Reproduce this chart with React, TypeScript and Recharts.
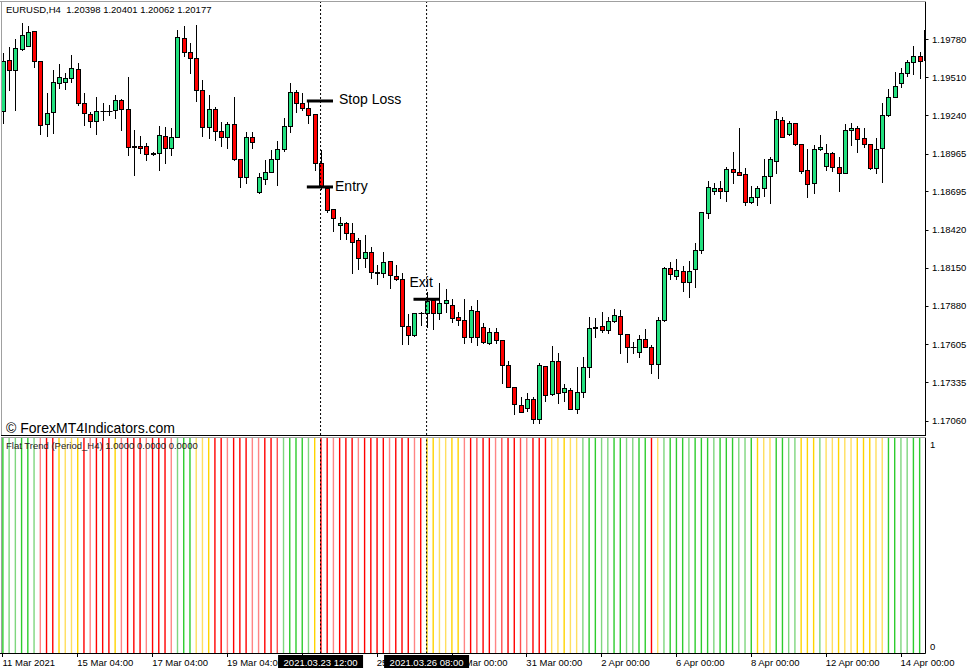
import { ComposedChart, Bar, XAxis, YAxis, ReferenceLine } from 'recharts'

// EURUSD H4, 149 bars
const open = [
  1.19269, 1.19632, 1.19561, 1.19711, 1.19732, 1.19839, 1.19625, 1.19176, 1.19261, 1.19468,
  1.19475, 1.19504, 1.19568, 1.19326, 1.19247, 1.19197, 1.19269, 1.19269, 1.19276, 1.19347,
  1.19283, 1.19019, 1.19019, 1.19019, 1.18962, 1.18969, 1.19090, 1.19005, 1.19083, 1.19789,
  1.19689, 1.19646, 1.19418, 1.19154, 1.19283, 1.19126, 1.19083, 1.19176, 1.18926, 1.18798,
  1.19083, 1.18691, 1.18784, 1.18834, 1.18926, 1.18998, 1.19162, 1.19404, 1.19326, 1.19290,
  1.19247, 1.18898, 1.18720, 1.18570, 1.18456, 1.18470, 1.18399, 1.18349, 1.18220, 1.18263,
  1.18121, 1.18114, 1.18199, 1.18092, 1.18071, 1.17736, 1.17671, 1.17828, 1.17828, 1.17921,
  1.17828, 1.17900, 1.17885, 1.17800, 1.17778, 1.17657, 1.17843, 1.17729, 1.17614, 1.17693,
  1.17636, 1.17458, 1.17301, 1.17172, 1.17151, 1.17215, 1.17073, 1.17450, 1.17251, 1.17486,
  1.17265, 1.17279, 1.17144, 1.17265, 1.17443, 1.17729, 1.17736, 1.17707, 1.17771, 1.17807,
  1.17679, 1.17586, 1.17550, 1.17643, 1.17586, 1.17465, 1.17778, 1.18149, 1.18092, 1.18128,
  1.18049, 1.18142, 1.18278, 1.18541, 1.18698, 1.18720, 1.18698, 1.18855, 1.18834, 1.18819,
  1.18620, 1.18655, 1.18720, 1.18805, 1.18912, 1.19204, 1.19105, 1.19183, 1.19033, 1.18848,
  1.18755, 1.18998, 1.18876, 1.18969, 1.18869, 1.18827, 1.19133, 1.19147, 1.19076, 1.19033,
  1.18862, 1.19005, 1.19240, 1.19368, 1.19468, 1.19540, 1.19618, 1.19661, 1.19632,
]
const high = [
  1.19682, 1.19725, 1.19782, 1.19896, 1.19875, 1.19839, 1.19625, 1.19397, 1.19561, 1.19604,
  1.19540, 1.19668, 1.19611, 1.19397, 1.19261, 1.19368, 1.19326, 1.19311, 1.19383, 1.19354,
  1.19511, 1.19133, 1.19090, 1.19040, 1.18976, 1.19162, 1.19154, 1.19147, 1.19846, 1.19875,
  1.19753, 1.19882, 1.19490, 1.19383, 1.19297, 1.19190, 1.19190, 1.19368, 1.18926, 1.19119,
  1.19119, 1.18827, 1.18919, 1.18991, 1.19055, 1.19219, 1.19468, 1.19418, 1.19397, 1.19333,
  1.19247, 1.18991, 1.18727, 1.18570, 1.18513, 1.18477, 1.18470, 1.18363, 1.18384, 1.18299,
  1.18171, 1.18263, 1.18199, 1.18171, 1.18114, 1.17821, 1.17828, 1.17836, 1.17978, 1.17921,
  1.18042, 1.17999, 1.17928, 1.17836, 1.17928, 1.17878, 1.17921, 1.17757, 1.17721, 1.17721,
  1.17636, 1.17486, 1.17301, 1.17229, 1.17258, 1.17229, 1.17472, 1.17450, 1.17593, 1.17543,
  1.17322, 1.17294, 1.17443, 1.17515, 1.17800, 1.17793, 1.17836, 1.17800, 1.17857, 1.17850,
  1.17679, 1.17622, 1.17671, 1.17714, 1.17600, 1.17800, 1.18156, 1.18192, 1.18213, 1.18163,
  1.18199, 1.18327, 1.18548, 1.18770, 1.18755, 1.18770, 1.18869, 1.18976, 1.19147, 1.18862,
  1.18734, 1.18734, 1.18926, 1.18941, 1.19269, 1.19226, 1.19197, 1.19183, 1.19033, 1.18998,
  1.19026, 1.19097, 1.19033, 1.18976, 1.18941, 1.19176, 1.19183, 1.19162, 1.19147, 1.19033,
  1.19076, 1.19326, 1.19425, 1.19547, 1.19575, 1.19632, 1.19732, 1.19689, 1.19867,
]
const low = [
  1.19183, 1.19418, 1.19276, 1.19704, 1.19732, 1.19582, 1.19105, 1.19090, 1.19112, 1.19433,
  1.19425, 1.19475, 1.19311, 1.19169, 1.19154, 1.19105, 1.19204, 1.19240, 1.19219, 1.19133,
  1.18955, 1.18812, 1.18969, 1.18919, 1.18955, 1.18848, 1.18898, 1.18955, 1.19083, 1.19661,
  1.19540, 1.19340, 1.19090, 1.19076, 1.19062, 1.19019, 1.19005, 1.18919, 1.18727, 1.18755,
  1.19005, 1.18684, 1.18748, 1.18834, 1.18741, 1.18983, 1.19119, 1.19261, 1.19276, 1.19183,
  1.18848, 1.18712, 1.18548, 1.18413, 1.18356, 1.18356, 1.18114, 1.18142, 1.18156, 1.18078,
  1.18035, 1.18085, 1.18007, 1.18064, 1.17607, 1.17607, 1.17664, 1.17743, 1.17729, 1.17714,
  1.17785, 1.17836, 1.17764, 1.17743, 1.17614, 1.17622, 1.17600, 1.17614, 1.17607, 1.17614,
  1.17329, 1.17301, 1.17108, 1.17122, 1.17129, 1.17044, 1.17044, 1.17197, 1.17244, 1.17186,
  1.17197, 1.17144, 1.17115, 1.17229, 1.17372, 1.17657, 1.17693, 1.17686, 1.17764, 1.17543,
  1.17479, 1.17543, 1.17515, 1.17586, 1.17401, 1.17365, 1.17771, 1.18071, 1.18071, 1.17985,
  1.17942, 1.18014, 1.18256, 1.18506, 1.18677, 1.18648, 1.18627, 1.18755, 1.18812, 1.18598,
  1.18613, 1.18598, 1.18663, 1.18613, 1.18827, 1.19083, 1.19097, 1.19026, 1.18827, 1.18655,
  1.18684, 1.18991, 1.18848, 1.18841, 1.18698, 1.18827, 1.19026, 1.18976, 1.19012, 1.18855,
  1.18827, 1.18762, 1.19233, 1.19368, 1.19440, 1.19518, 1.19532, 1.19504, 1.19518,
]
const close = [
  1.19625, 1.19561, 1.19718, 1.19810, 1.19832, 1.19625, 1.19169, 1.19254, 1.19475, 1.19511,
  1.19504, 1.19575, 1.19326, 1.19254, 1.19197, 1.19269, 1.19272, 1.19272, 1.19347, 1.19283,
  1.19012, 1.19012, 1.19005, 1.18962, 1.18969, 1.19097, 1.19005, 1.19083, 1.19796, 1.19689,
  1.19646, 1.19418, 1.19154, 1.19283, 1.19126, 1.19083, 1.19176, 1.18926, 1.18798, 1.19083,
  1.19047, 1.18798, 1.18834, 1.18926, 1.18998, 1.19162, 1.19404, 1.19326, 1.19290, 1.19240,
  1.18898, 1.18727, 1.18563, 1.18506, 1.18470, 1.18399, 1.18335, 1.18220, 1.18263, 1.18121,
  1.18114, 1.18192, 1.18099, 1.18071, 1.17736, 1.17671, 1.17828, 1.17828, 1.17914, 1.17828,
  1.17900, 1.17921, 1.17793, 1.17778, 1.17657, 1.17850, 1.17657, 1.17622, 1.17693, 1.17636,
  1.17458, 1.17301, 1.17179, 1.17122, 1.17215, 1.17073, 1.17458, 1.17244, 1.17486, 1.17258,
  1.17294, 1.17144, 1.17265, 1.17443, 1.17722, 1.17722, 1.17707, 1.17771, 1.17814, 1.17679,
  1.17586, 1.17586, 1.17643, 1.17586, 1.17465, 1.17778, 1.18149, 1.18106, 1.18135, 1.18049,
  1.18128, 1.18278, 1.18548, 1.18727, 1.18720, 1.18698, 1.18855, 1.18834, 1.18812, 1.18620,
  1.18655, 1.18720, 1.18805, 1.18926, 1.19212, 1.19083, 1.19183, 1.19033, 1.18841, 1.18748,
  1.18998, 1.19012, 1.18969, 1.18869, 1.18827, 1.19133, 1.19147, 1.19069, 1.19033, 1.18862,
  1.18998, 1.19240, 1.19368, 1.19447, 1.19540, 1.19618, 1.19661, 1.19625, 1.19846,
]

// Flat Trend state per bar: G/g green, Y/y yellow, R/r/m red (capital = strong)
const flatTrend = (
  'GggGGgrRRY' + 'yyYRrRRRYr' + 'RRRrRRRrgG' + 'GyyYRRrRRR' + 'rrRRmgGGGg' +
  'YRRrRRRrRR' + 'RRrRRRrRYY' + 'yyYYrRmRRr' + 'mRRmrRRRyy' + 'YyygGGggGG' +
  'ggGGRygGGG' + 'gGGGgGGGgg' + 'GYyyGGggYY' + 'YgyyYyyYYY' + 'yyGGggGGG'
).split('')

const trendColors: Record<string, string> = {
  G: '#2ecc2e', g: '#7fd67f',
  Y: '#ffd400', y: '#ffdf5e',
  R: '#ff0000', r: '#ff8585', m: '#ff5050',
}

const priceTicks = [1.1706, 1.17335, 1.17605, 1.1788, 1.1815, 1.1842, 1.18695, 1.18965, 1.1924, 1.1951, 1.1978]
const timeTicks = [0, 12, 24, 36, 48, 60, 72, 84, 96, 108, 120, 132, 144]
const timeLabels = [
  '11 Mar 2021', '15 Mar 04:00', '17 Mar 04:00', '19 Mar 04:00', '23 Mar 04:00', '25 Mar 04:00',
  '29 Mar 00:00', '31 Mar 00:00', '2 Apr 00:00', '6 Apr 00:00', '8 Apr 00:00', '12 Apr 00:00', '14 Apr 00:00',
]
const markers = [
  { i: 51, label: '2021.03.23 12:00' },
  { i: 68, label: '2021.03.26 08:00' },
]
const levels = [
  { name: 'Stop Loss', price: 1.1934, from: 48.8, to: 53, at: 'end', dx: 6, dy: -2 },
  { name: 'Entry', price: 1.18727, from: 48.8, to: 53, at: 'end', dx: 2, dy: -1 },
  { name: 'Exit', price: 1.17926, from: 65.9, to: 70.1, at: 'start', dx: -4, dy: -17 },
]

const bars = open.map((o, i) => ({
  i, o, h: high[i], l: low[i], c: close[i], t: flatTrend[i], v: 1,
}))

const FONT = 'Tahoma, "Liberation Sans", Arial, sans-serif'
const X_DOMAIN: [number, number] = [-0.4, 148]

function Candle(props: any) {
  const { x, y, width, height, payload } = props
  const { o, h, l, c } = payload
  const k = height / (h - l)
  const cx = Math.round(x + width / 2) + 0.5
  const yo = y + (h - o) * k
  const yc = y + (h - c) * k
  const top = Math.round(Math.min(yo, yc)) + 0.5
  const bot = Math.round(Math.max(yo, yc)) + 0.5
  return (
    <g>
      <line x1={cx} x2={cx} y1={Math.round(y)} y2={Math.round(y + height) + 1} stroke="#000" />
      {bot - top < 1 ? (
        <line x1={cx - 3} x2={cx + 3} y1={top} y2={top} stroke="#000" />
      ) : (
        <rect x={cx - 2} y={top} width={4} height={bot - top}
          fill={c >= o ? '#22e07f' : '#ff0000'} stroke="#000" />
      )}
    </g>
  )
}

// the screenshot is slightly resampled, so the 1px lines bleed over ~1.5px
function TrendLine(props: any) {
  const { x, y, width, height, payload } = props
  const cx = x + width / 2
  return <rect x={cx - 0.7} y={y} width={1.4} height={height} fill={trendColors[payload.t]} />
}

function PriceTick({ x, y, payload }: any) {
  const yy = Math.round(y) + 0.5
  return (
    <g>
      <line x1={x} x2={x + 3} y1={yy} y2={yy} stroke="#000" />
      <text x={x + 6.5} y={y} dominantBaseline="central" fontSize={9.5} fontFamily={FONT} fill="#000">
        {payload.value.toFixed(5)}
      </text>
    </g>
  )
}

function TimeTick({ x, y, payload }: any) {
  const m = markers.find(mk => mk.i === payload.value)
  if (m) {
    return (
      <g>
        <rect x={x - 42.5} y={y + 1.5} width={85} height={13} fill="#000" />
        <text x={x} y={y + 8.5} textAnchor="middle" dominantBaseline="central"
          fontSize={9.5} fontFamily={FONT} fill="#fff">{m.label}</text>
      </g>
    )
  }
  const k = timeTicks.indexOf(payload.value)
  const tx = Math.round(x) + 0.5
  return (
    <g>
      <line x1={tx} x2={tx} y1={y} y2={y + 3.5} stroke="#000" />
      <text x={x} y={y + 8.5} dominantBaseline="central" fontSize={9.5} fontFamily={FONT} fill="#000">
        {timeLabels[k]}
      </text>
    </g>
  )
}

function LevelTick({ x, y, payload }: any) {
  return (
    <text x={x + 4.5} y={payload.value === 1 ? y + 6.5 : y - 7.5} dominantBaseline="central"
      fontSize={9.5} fontFamily={FONT} fill="#000">{payload.value}</text>
  )
}

function levelLabel(lv: typeof levels[number]) {
  return (p: any) => {
    const vb = p.viewBox
    const tx = (lv.at === 'end' ? vb.x + vb.width : vb.x) + lv.dx
    return (
      <text x={tx} y={vb.y + lv.dy} dominantBaseline="central" fontSize={14}
        fontFamily={FONT} fill="#000">{lv.name}</text>
    )
  }
}

export default function App() {
  return (
    <div style={{ position: 'fixed', left: 0, top: 0, width: 977, height: 672, background: '#fff', fontFamily: FONT }}>
      <div style={{ position: 'absolute', left: 0, top: 0 }}>
        <ComposedChart width={977} height={436} data={bars} margin={{ top: 1, right: 0, bottom: 1, left: 0 }}>
          <XAxis type="number" dataKey="i" domain={X_DOMAIN} allowDataOverflow hide />
          <YAxis orientation="right" width={51.5} domain={[1.16958, 1.20053]} allowDataOverflow
            ticks={priceTicks} interval={0} tick={<PriceTick />} tickSize={0} tickMargin={0}
            tickLine={false} axisLine={{ stroke: '#000' }} />
          <Bar dataKey={(d: any) => [d.l, d.h]} shape={Candle} barSize={5} isAnimationActive={false} />
          {markers.map(m => (
            <ReferenceLine key={m.i} x={m.i} stroke="#000" strokeDasharray="2 2" />
          ))}
          {levels.map(lv => (
            <ReferenceLine key={lv.name} segment={[{ x: lv.from, y: lv.price }, { x: lv.to, y: lv.price }]}
              stroke="#000" strokeWidth={3} label={levelLabel(lv)} />
          ))}
        </ComposedChart>
      </div>
      <div style={{ position: 'absolute', left: 0, top: 436 }}>
        <ComposedChart width={977} height={236} data={bars} margin={{ top: 2, right: 0, bottom: 0, left: 0 }}>
          <XAxis type="number" dataKey="i" domain={X_DOMAIN} allowDataOverflow height={18.5}
            ticks={[...timeTicks, ...markers.map(m => m.i)]} interval={0} tick={<TimeTick />}
            tickSize={0} tickMargin={0} tickLine={false} axisLine={{ stroke: '#000' }} />
          <YAxis orientation="right" width={51.5} domain={[0, 1]} ticks={[0, 1]} interval={0}
            tick={<LevelTick />} tickSize={0} tickMargin={0} tickLine={false} axisLine={{ stroke: '#000' }} />
          <Bar dataKey="v" shape={TrendLine} barSize={1} isAnimationActive={false} />
          {markers.map(m => (
            <ReferenceLine key={m.i} x={m.i} stroke="#000" strokeDasharray="2 2" />
          ))}
        </ComposedChart>
      </div>
      <svg width={977} height={672} style={{ position: 'absolute', left: 0, top: 0, pointerEvents: 'none' }}>
        <line x1={0} x2={926} y1={1.5} y2={1.5} stroke="#a0a0a0" />
        <line x1={1.5} x2={1.5} y1={1} y2={435} stroke="#a0a0a0" />
        <line x1={1} x2={926} y1={435.5} y2={435.5} stroke="#000" />
        <line x1={1} x2={926} y1={437.5} y2={437.5} stroke="#a0a0a0" />
        <line x1={1.5} x2={1.5} y1={437} y2={653} stroke="#a0a0a0" />
        <text x={6} y={9.5} dominantBaseline="central" fontSize={9.5} fontFamily={FONT} fill="#000">
          EURUSD,H4{'\u00a0\u00a0'}1.20398 1.20401 1.20062 1.20177
        </text>
        <text x={6} y={427.5} dominantBaseline="central" fontSize={14} fontFamily={FONT} fill="#000">
          © ForexMT4Indicators.com
        </text>
        <text x={6} y={445.5} dominantBaseline="central" fontSize={9.5} fontFamily={FONT} fill="#222">
          Flat Trend (Period_H4) 1.0000 0.0000 0.0000
        </text>
      </svg>
    </div>
  )
}
